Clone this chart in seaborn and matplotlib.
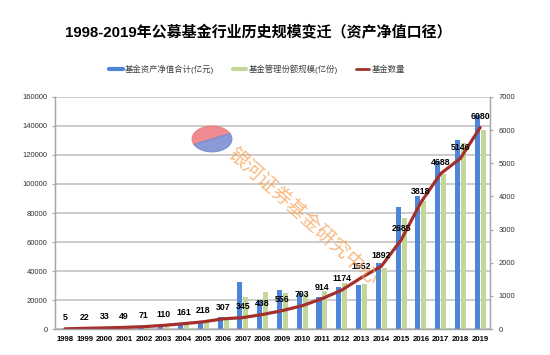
import numpy as np
import pandas as pd
import matplotlib
matplotlib.use("Agg")
import matplotlib.pyplot as plt
from matplotlib.lines import Line2D
from matplotlib.patches import Wedge
import seaborn as sns

# --- data ---
years = [str(y) for y in range(1998, 2020)]
nav = [104, 484, 846, 807, 1330, 1715, 3246, 4691, 8565, 32756, 19389,
       26767, 24972, 21918, 28661, 30021, 45354, 83972, 91593, 115996,
       130346, 147672]  # 基金资产净值合计(亿元)
shares = [100, 500, 560, 818, 1319, 1619, 3309, 4715, 6220, 22331, 25741,
          24535, 24228, 26511, 31662, 31178, 42000, 76674, 88428, 107000,
          128500, 137200]  # 基金管理份额规模(亿份)
counts = [5, 22, 33, 49, 71, 110, 161, 218, 307, 345, 438, 556, 703, 914,
          1174, 1552, 1892, 2685, 3818, 4688, 5146, 6080]  # 基金数量

lab_nav = "基金资产净值合计(亿元)"
lab_shr = "基金管理份额规模(亿份)"
lab_cnt = "基金数量"

BLUE = "#4d86d8"
GREEN = "#c4d79b"
RED = "#a3302c"

sns.set_style("white")
plt.rcParams["font.family"] = ["Liberation Sans", "Noto Sans CJK SC", "DejaVu Sans"]

df = pd.DataFrame({"year": years * 2,
                   "value": nav + shares,
                   "series": [lab_nav] * len(years) + [lab_shr] * len(years)})

fig = plt.figure(figsize=(5.5, 3.55), dpi=100)
ax = fig.add_axes([0.1, 0.0732, 0.791, 0.6536])

sns.barplot(data=df, x="year", y="value", hue="series",
            palette=[BLUE, GREEN], width=0.6, gap=0.15, linewidth=0,
            saturation=1, legend=False, ax=ax, zorder=2)
ax.set_ylim(0, 160000)
ax.set_yticks(np.arange(0, 160001, 20000))
ax.set_xlim(-0.5, len(years) - 0.5)
ax.set_xlabel("")
ax.set_ylabel("")
ax.yaxis.grid(True, color="#c8c8c8", linewidth=1.3, zorder=0)
ax.set_axisbelow(True)

ax2 = ax.twinx()
sns.lineplot(x=np.arange(len(years)), y=counts, color=RED, linewidth=2.3, ax=ax2)
ax2.set_ylim(0, 7000)
ax2.set_yticks(np.arange(0, 7001, 1000))
ax2.set_xlim(-0.5, len(years) - 0.5)

for i, c in enumerate(counts):
    ax2.annotate(str(c), (i, c), xytext=(0, 8), textcoords="offset points",
                 ha="center", va="center", fontsize=6.3, fontweight="bold",
                 color="black")

for a in (ax, ax2):
    for s in a.spines.values():
        s.set_color("#a6a6a6")
        s.set_linewidth(0.9)
    a.spines["top"].set_visible(False)

ax.tick_params(axis="y", labelsize=5.5, labelcolor="#333333", length=2.2,
               width=0.8, color="#a6a6a6", pad=3)
ax2.tick_params(axis="y", labelsize=5.5, labelcolor="#333333", length=2.2,
                width=0.8, color="#a6a6a6", pad=4)
ax.tick_params(axis="x", labelsize=5.6, labelcolor="black", length=0, pad=5)
for t in ax.get_xticklabels():
    t.set_fontweight("bold")
ax.set_xticks(np.arange(-0.5, len(years), 1), minor=True)
ax.tick_params(axis="x", which="minor", length=2.5, width=0.8, color="#a6a6a6")

fig.text(0.469, 0.907, "1998-2019年公募基金行业历史规模变迁（资产净值口径）",
         ha="center", va="center", fontsize=10.8, fontweight="bold",
         color="black")

handles = [Line2D([], [], color=BLUE, lw=3), Line2D([], [], color=GREEN, lw=3),
           Line2D([], [], color=RED, lw=2)]
fig.legend(handles, [lab_nav, lab_shr, lab_cnt], loc="center",
           bbox_to_anchor=(0.468, 0.806), ncol=3, frameon=False, fontsize=6,
           handlelength=1.6, handletextpad=0.3, columnspacing=2.2,
           labelcolor="#404040")

# watermark
cx, cy = 212 / 550, 1 - 139 / 355
fig.patches.append(Wedge((cx, cy), 0.036, 25, 205, transform=fig.transFigure,
                         color="#ef7f86", alpha=0.9, figure=fig))
fig.patches.append(Wedge((cx, cy), 0.036, 205, 385, transform=fig.transFigure,
                         color="#7d8fd2", alpha=0.9, figure=fig))
fig.text(303 / 550, 1 - 217 / 355, "银河证券基金研究中心", rotation=-42,
         rotation_mode="anchor", ha="center", va="center", fontsize=14,
         color="#f6a257", alpha=0.75, fontweight="light")

fig.savefig("out.png", dpi=100)
